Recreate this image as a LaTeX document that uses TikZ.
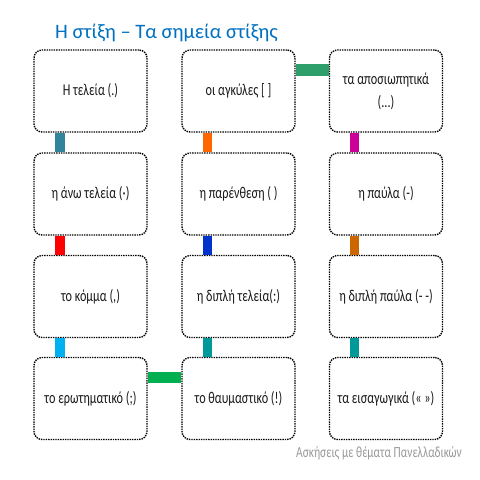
\documentclass[tikz,border=0pt]{standalone}
\usepackage{fontspec}
\setmainfont{Carlito}
\newfontfamily\narrowfont[FakeStretch=0.74]{Carlito}
\begin{document}
\begin{tikzpicture}[x=1bp,y=1bp,
  pbox/.style={draw=black, densely dotted, line width=1.4bp, rounded corners=8bp,
    minimum width=113bp, minimum height=82bp, align=center, inner sep=2bp,
    font=\narrowfont\fontsize{16.5bp}{23bp}\selectfont, text=black!90},
  vconn/.style={line width=9.5bp},
  hconn/.style={line width=11.5bp}]
\definecolor{cA}{HTML}{31849B}
\definecolor{cB}{HTML}{FF0000}
\definecolor{cC}{HTML}{00B0F0}
\definecolor{cD}{HTML}{FF6600}
\definecolor{cE}{HTML}{0033CC}
\definecolor{cF}{HTML}{009999}
\definecolor{cG}{HTML}{CC0099}
\definecolor{cH}{HTML}{CC6600}
\definecolor{cI}{HTML}{2E9E6B}
\definecolor{cJ}{HTML}{00B050}
\definecolor{titleblue}{HTML}{0070C0}
\useasboundingbox (0,0) rectangle (480,480);
\node[anchor=base west, text=titleblue, font=\fontsize{20.5bp}{24bp}\selectfont, inner sep=0pt] (title) at (55,441) {Η στίξη – Τα σημεία στίξης};
% rows: y = 480 - ypx
\node[pbox] (a1) at (90.5,389) {Η τελεία (.)};
\node[pbox] (b1) at (238.5,389) {οι αγκύλες [ ]};
\node[pbox] (c1) at (386,389) {τα αποσιωπητικά\\(...)};
\node[pbox] (a2) at (90.5,286) {η άνω τελεία (·)};
\node[pbox] (b2) at (238.5,286) {η παρένθεση ( )};
\node[pbox] (c2) at (386,286) {η παύλα (-)};
\node[pbox] (a3) at (90.5,183.5) {το κόμμα (,)};
\node[pbox] (b3) at (238.5,183.5) {η διπλή τελεία(:)};
\node[pbox] (c3) at (386,183.5) {η διπλή παύλα (- -)};
\node[pbox] (a4) at (90.5,81.5) {το ερωτηματικό (;)};
\node[pbox] (b4) at (238.5,81.5) {το θαυμαστικό (!)};
\node[pbox] (c4) at (386,81.5) {τα εισαγωγικά (« »)};
% vertical connectors
\draw[vconn, cA] ([xshift=-30.5bp]a1.south) -- ([xshift=-30.5bp]a2.north);
\draw[vconn, cB] ([xshift=-30.5bp]a2.south) -- ([xshift=-30.5bp]a3.north);
\draw[vconn, cC] ([xshift=-30.5bp]a3.south) -- ([xshift=-30.5bp]a4.north);
\draw[vconn, cD] ([xshift=-31bp]b1.south) -- ([xshift=-31bp]b2.north);
\draw[vconn, cE] ([xshift=-31bp]b2.south) -- ([xshift=-31bp]b3.north);
\draw[vconn, cF] ([xshift=-31bp]b3.south) -- ([xshift=-31bp]b4.north);
\draw[vconn, cG] ([xshift=-31.5bp]c1.south) -- ([xshift=-31.5bp]c2.north);
\draw[vconn, cH] ([xshift=-31.5bp]c2.south) -- ([xshift=-31.5bp]c3.north);
\draw[vconn, cF] ([xshift=-31.5bp]c3.south) -- ([xshift=-31.5bp]c4.north);
% horizontal connectors
\draw[hconn, cI] ([yshift=21bp]b1.east) -- ([yshift=21bp]c1.west);
\draw[hconn, cJ] ([yshift=21bp]a4.east) -- ([yshift=21bp]b4.west);
\node[anchor=base east, text=black!40, font=\narrowfont\fontsize{15.5bp}{18bp}\selectfont, inner sep=0pt] (foot) at (462,22) {Ασκήσεις με θέματα Πανελλαδικών};
\end{tikzpicture}
\end{document}
